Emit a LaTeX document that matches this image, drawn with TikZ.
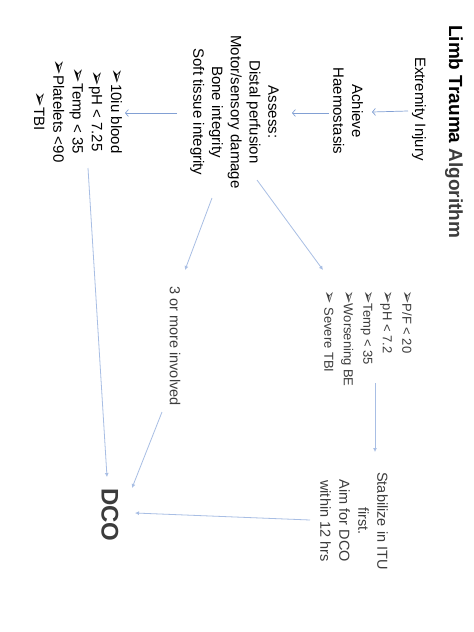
\documentclass[tikz,border=0pt]{standalone}
\usepackage{fontspec}
\setmainfont{Liberation Sans}
\newfontfamily\dejavu{DejaVu Sans}
\usetikzlibrary{arrows.meta}
\definecolor{arrblue}{RGB}{130,160,212}
\definecolor{arrpale}{RGB}{168,190,228}
\definecolor{blurtext}{RGB}{60,60,60}
\newcommand{\bul}{\scalebox{1.25}{\dejavu\char"27A2}}
\begin{document}
\begin{tikzpicture}[x=1pt,y=-1pt,
  txt/.style={rotate=-90,inner sep=0pt,align=center,font=\fontsize{15}{18.75}\selectfont},
  listl/.style={rotate=-90,inner sep=0pt,align=center,font=\fontsize{15}{19.25}\selectfont},
  listr/.style={rotate=-90,inner sep=0pt,align=left,anchor=west,text=blurtext,font=\fontsize{13}{19.5}\selectfont},
  blur/.style={text=blurtext},
  arr/.style={draw=arrblue,line width=0.7pt,-{Straight Barb[length=3pt,width=7pt]}},
  arrp/.style={draw=arrpale,line width=0.8pt,-{Latex[length=4pt,width=4pt]}},
]
\fill[white] (0,0) rectangle (474,632);
\useasboundingbox (0,0) rectangle (474,632);
% nodes
\node[rotate=-90,anchor=west,inner sep=0pt,font=\fontsize{19}{22}\selectfont\bfseries] (title) at (454,25) {Limb Trauma \textcolor{blurtext}{Algorithm}};
\node[txt,anchor=west] (ext) at (419,57) {Extremity Injury};
\node[txt] (ach) at (348,111) {Achieve\\Haemostasis};
\node[txt] (assess) at (234.5,112) {Assess:\\Distal perfusion\\Motor/sensory damage\\Bone integrity\\Soft tissue integrity};
\node[listl] (llist) at (78,111) {\bul10iu blood\\\bul pH < 7.25\\\bul Temp < 35\\\bul Platelets <90\\\bul TBI};
\node[listr] (rlist) at (368,290) {\bul P/F < 20\\\bul pH < 7.2\\\bul Temp < 35\\\bul Worsening BE\\\bul\ Severe TBI};
\node[txt,blur,font=\fontsize{14.5}{19}\selectfont] (stab) at (354,521) {Stabilize in ITU\\first.\\Aim for DCO\\within 12 hrs};
\node[txt,blur,font=\fontsize{14.5}{18}\selectfont] (three) at (175,346) {3 or more involved};
\node[rotate=-90,inner sep=0pt,text=blurtext,font=\fontsize{24}{28}\selectfont\bfseries] (dco) at (110,515) {DCO};
% connector ends
\coordinate (extout) at (408,111);  \coordinate (achin) at (372,112);
\coordinate (achout) at (329,113);  \coordinate (assin) at (292,113);
\coordinate (assout) at (177,113);  \coordinate (llin) at (125,113);
\coordinate (assr) at (257,180);    \coordinate (rlin) at (323,270);
\coordinate (assd) at (212,198);    \coordinate (threein) at (185,270);
\coordinate (rlout) at (375,383);   \coordinate (stabin) at (375,452);
\coordinate (stabout) at (310,520); \coordinate (dcor) at (135,513);
\coordinate (llout) at (88,168);    \coordinate (dcot) at (107,477);
\coordinate (threeout) at (162,412);\coordinate (dcom) at (132,488);
% connectors
\draw[arr] (extout) -- (achin);
\draw[arr] (achout) -- (assin);
\draw[arr] (assout) -- (llin);
\draw[arrp] (assr) -- (rlin);
\draw[arrp] (assd) -- (threein);
\draw[arrp] (rlout) -- (stabin);
\draw[arrp] (stabout) -- (dcor);
\draw[arrp] (llout) -- (dcot);
\draw[arrp] (threeout) -- (dcom);
\end{tikzpicture}
\end{document}
